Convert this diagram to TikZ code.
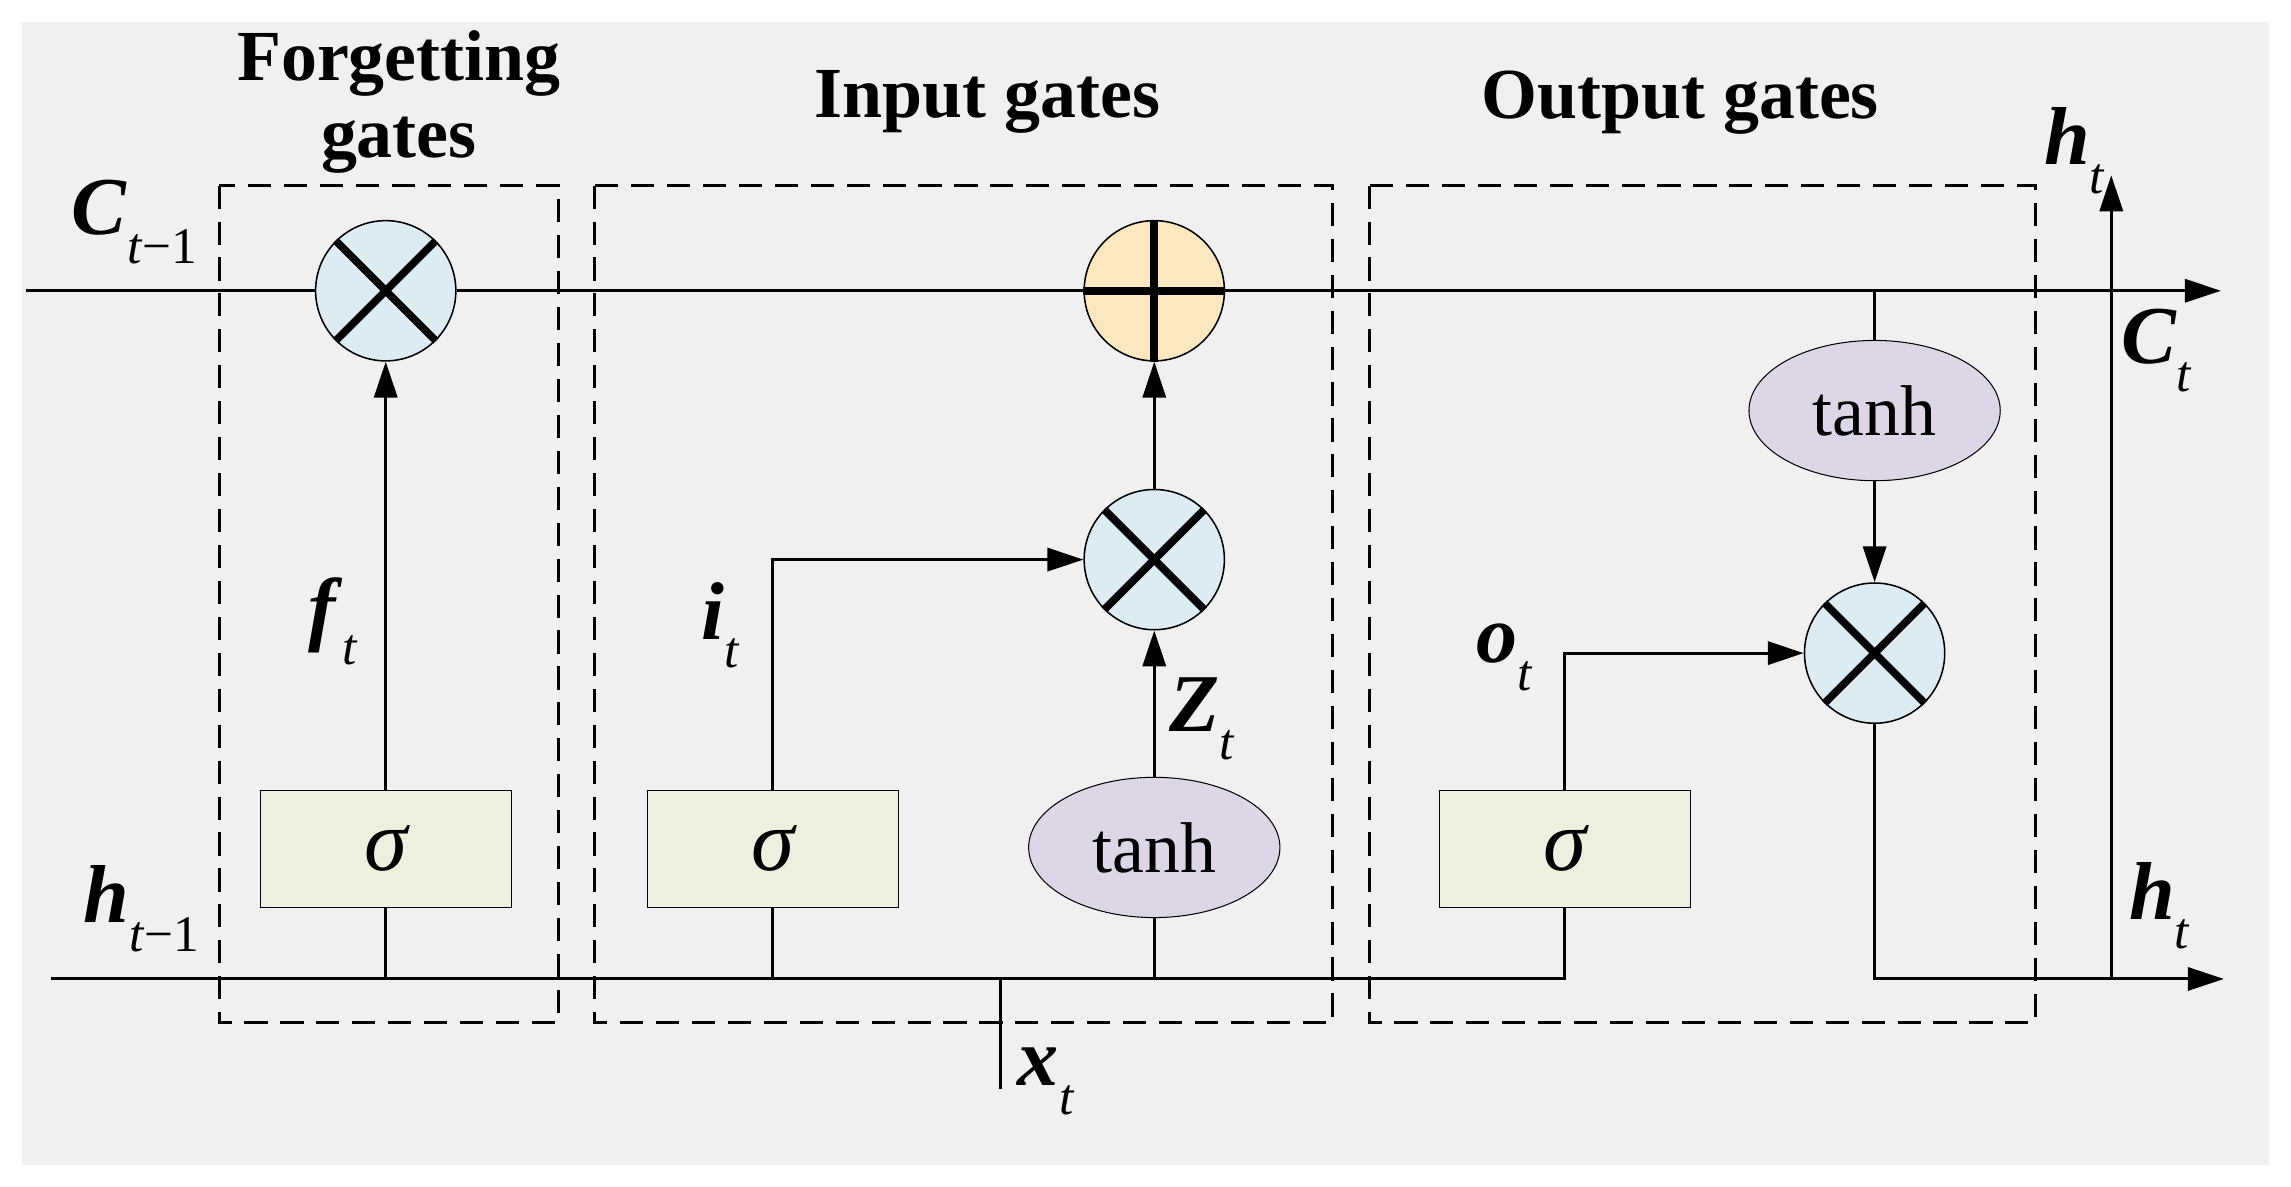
\documentclass[tikz,border=0pt]{standalone}
\usepackage{fontspec}
\setmainfont{Liberation Serif}
\usetikzlibrary{arrows.meta,shapes.geometric}
\definecolor{bg}{RGB}{240,240,240}
\definecolor{cb}{RGB}{220,236,242}
\definecolor{co}{RGB}{252,232,190}
\definecolor{cg}{RGB}{235,241,222}
\definecolor{cl}{RGB}{221,214,230}
\newcommand{\mylab}[2]{\textbf{\textit{#1}}\raisebox{-0.35em}{\fontsize{20}{22}\selectfont\mdseries #2}}
\begin{document}
\begin{tikzpicture}[x=0.02cm,y=-0.02cm,
  ln/.style={line width=1.2pt},
  ar/.style={ln,-{Triangle[length=14pt,width=9pt]}},
  dbox/.style={draw,dashed,line width=1.2pt,dash pattern=on 9pt off 5pt},
  mul/.style={circle,draw,fill=cb,minimum size=1.92cm,inner sep=0pt,line width=0.6pt},
  add/.style={circle,draw,fill=co,minimum size=1.92cm,inner sep=0pt,line width=0.6pt},
  sig/.style={draw,fill=cg,minimum width=3.44cm,minimum height=1.6cm,inner sep=0pt,font=\fontsize{34}{38}\selectfont\itshape},
  th/.style={ellipse,draw,fill=cl,minimum width=3.44cm,minimum height=1.92cm,inner sep=0pt,font=\fontsize{28}{32}\selectfont},
  ttl/.style={font=\fontsize{28}{32}\selectfont\bfseries,align=center},
  lab/.style={font=\fontsize{32}{36}\selectfont}]
\useasboundingbox (0,0) rectangle (1568,812);
\fill[bg] (15,15) rectangle (1553,797);
% boxes
\draw[dbox] (150,127) rectangle (382,700);
\draw[dbox] (407,127) rectangle (912,700);
\draw[dbox] (937,127) rectangle (1393,700);
% nodes
\node[mul] (m1) at (264,199) {};
\node[add] (a1) at (790,199) {};
\node[mul] (m2) at (790,383) {};
\node[mul] (m3) at (1283,447) {};
\node[sig] (s1) at (264,581) {σ};
\node[sig] (s2) at (529,581) {σ};
\node[sig] (s3) at (1071,581) {σ};
\node[th] (t1) at (790,580) {tanh};
\node[th] (t2) at (1283,281) {tanh};
\foreach \m in {m1,m2,m3}{
  \draw[line width=3pt] (\m.north west) -- (\m.south east);
  \draw[line width=3pt] (\m.north east) -- (\m.south west);}
\draw[line width=3pt] (a1.north) -- (a1.south);
\draw[line width=3pt] (a1.west) -- (a1.east);
% coordinates
\coordinate (cin) at (18,199);
\coordinate (cout) at (1520,199);
\coordinate (hin) at (35,670);
\coordinate (hout) at (1522,670);
\coordinate (xb) at (685,745);
\coordinate (xt) at (685,670);
\coordinate (ht) at (1445,120);
\coordinate (hb) at (1445,670);
\coordinate (tp) at (1283,199);
% lines
\draw[ln] (cin) -- (m1.west);
\draw[ln] (m1.east) -- (a1.west);
\draw[ar] (a1.east) -- (cout);
\draw[ln] (hin) -- (1071,670) -- (s3.south);
\draw[ln] (xb) -- (xt);
\draw[ln] (s1.south) -- (264,670);
\draw[ln] (s2.south) -- (529,670);
\draw[ln] (t1.south) -- (790,670);
\draw[ar] (s1.north) -- (m1.south);
\draw[ar] (s2.north) -- (529,383) -- (m2.west);
\draw[ar] (t1.north) -- (m2.south);
\draw[ar] (m2.north) -- (a1.south);
\draw[ar] (s3.north) -- (1071,447) -- (m3.west);
\draw[ln] (tp) -- (t2.north);
\draw[ar] (t2.south) -- (m3.north);
\draw[ar] (m3.south) -- (1283,670) -- (hout);
\draw[ar] (hb) -- (ht);
% titles
\node[ttl] (tf) at (273,70) {Forgetting\\[-2pt]gates};
\node[ttl] (ti) at (676,70) {Input gates};
\node[ttl] (to) at (1150,70) {Output gates};
% labels
\node[lab] (lc) at (92,152) {\mylab{C}{\textit{t}−1}};
\node[lab] (lh) at (97,622) {\mylab{h}{\textit{t}−1}};
\node[lab] (lf) at (228,425) {\mylab{f}{\textit{t}}};
\node[lab] (li) at (493,428) {\mylab{i}{\textit{t}}};
\node[lab] (lz) at (823,492) {\mylab{Z}{\textit{t}}};
\node[lab] (lo) at (1030,450) {\mylab{o}{\textit{t}}};
\node[lab] (lx) at (716,740) {\mylab{x}{\textit{t}}};
\node[lab] (lht) at (1420,103) {\mylab{h}{\textit{t}}};
\node[lab] (lct) at (1476,240) {\mylab{C}{\textit{t}}};
\node[lab] (lhb) at (1478,620) {\mylab{h}{\textit{t}}};
\end{tikzpicture}
\end{document}
